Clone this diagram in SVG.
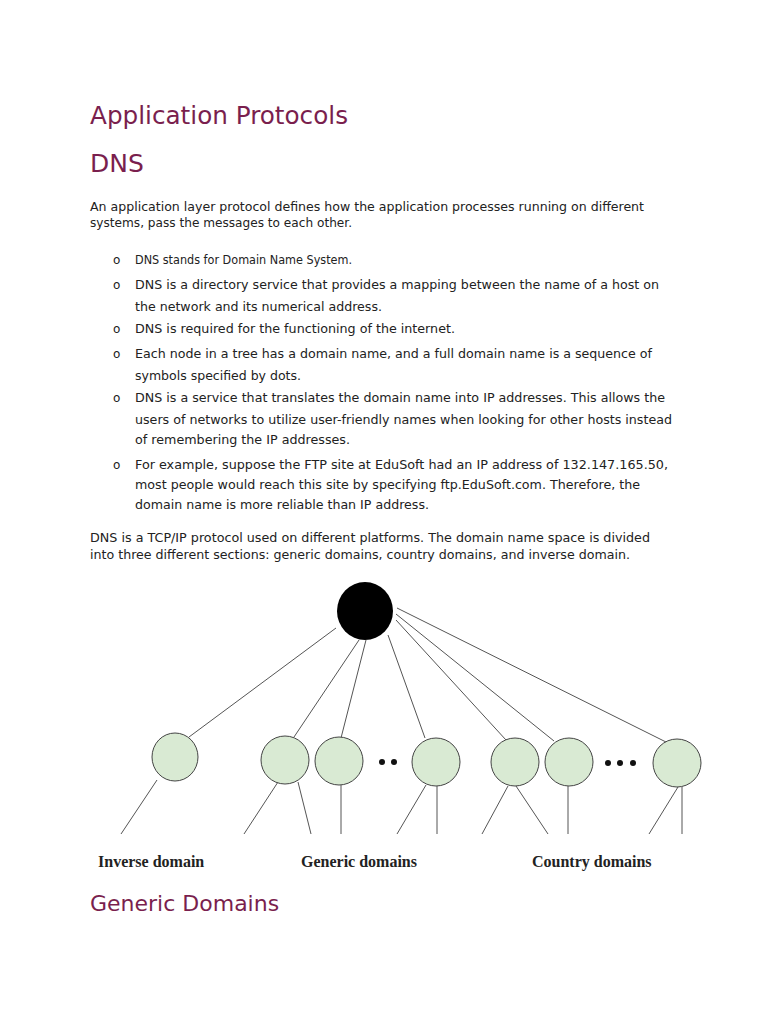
<svg xmlns="http://www.w3.org/2000/svg" width="768" height="1024" viewBox="0 0 768 1024">
<style>
.h{font-family:"DejaVu Sans","Liberation Sans",sans-serif;fill:#7a1f4e}
.b{font-family:"DejaVu Sans",sans-serif;font-size:12px;fill:#222}
.lbl{font-family:"Liberation Serif",serif;font-weight:bold;font-size:16px;fill:#222}
.e{stroke:#555;stroke-width:1;fill:none}
.c{fill:#d9ead3;stroke:#444;stroke-width:1}
.dot{fill:#111}
</style>
<rect width="768" height="1024" fill="#fff"/>
<text class="h" x="90" y="124" font-size="25" textLength="258" lengthAdjust="spacingAndGlyphs">Application Protocols</text>
<text class="h" x="90" y="172" font-size="25">DNS</text>
<text class="b" x="90" y="211" textLength="554" lengthAdjust="spacingAndGlyphs">An application layer protocol defines how the application processes running on different</text>
<text class="b" x="90" y="227" textLength="262" lengthAdjust="spacingAndGlyphs">systems, pass the messages to each other.</text>
<g class="b">
<text x="113" y="264">o</text><text x="135" y="264" textLength="217" lengthAdjust="spacingAndGlyphs">DNS stands for Domain Name System.</text>
<text x="113" y="289">o</text><text x="135" y="289" textLength="524" lengthAdjust="spacingAndGlyphs">DNS is a directory service that provides a mapping between the name of a host on</text>
<text x="135" y="311" textLength="247" lengthAdjust="spacingAndGlyphs">the network and its numerical address.</text>
<text x="113" y="333">o</text><text x="135" y="333" textLength="320" lengthAdjust="spacingAndGlyphs">DNS is required for the functioning of the internet.</text>
<text x="113" y="358">o</text><text x="135" y="358" textLength="517" lengthAdjust="spacingAndGlyphs">Each node in a tree has a domain name, and a full domain name is a sequence of</text>
<text x="135" y="380" textLength="166" lengthAdjust="spacingAndGlyphs">symbols specified by dots.</text>
<text x="113" y="402">o</text><text x="135" y="402" textLength="530" lengthAdjust="spacingAndGlyphs">DNS is a service that translates the domain name into IP addresses. This allows the</text>
<text x="135" y="424" textLength="537" lengthAdjust="spacingAndGlyphs">users of networks to utilize user-friendly names when looking for other hosts instead</text>
<text x="135" y="444" textLength="215" lengthAdjust="spacingAndGlyphs">of remembering the IP addresses.</text>
<text x="113" y="469">o</text><text x="135" y="469" textLength="533" lengthAdjust="spacingAndGlyphs">For example, suppose the FTP site at EduSoft had an IP address of 132.147.165.50,</text>
<text x="135" y="489" textLength="505" lengthAdjust="spacingAndGlyphs">most people would reach this site by specifying ftp.EduSoft.com. Therefore, the</text>
<text x="135" y="509" textLength="294" lengthAdjust="spacingAndGlyphs">domain name is more reliable than IP address.</text>
</g>
<text class="b" x="90" y="542" textLength="560" lengthAdjust="spacingAndGlyphs">DNS is a TCP/IP protocol used on different platforms. The domain name space is divided</text>
<text class="b" x="90" y="559" textLength="540" lengthAdjust="spacingAndGlyphs">into three different sections: generic domains, country domains, and inverse domain.</text>
<g id="connectors" class="e">
<line x1="336" y1="628" x2="189" y2="737"/>
<line x1="359" y1="640" x2="294" y2="737"/>
<line x1="366" y1="640" x2="341" y2="738"/>
<line x1="388" y1="635" x2="425" y2="738"/>
<line x1="396" y1="620" x2="506" y2="740"/>
<line x1="396" y1="614" x2="554" y2="741"/>
<line x1="397" y1="608" x2="668" y2="743"/>
<line x1="157" y1="780" x2="121" y2="834"/>
<line x1="278" y1="782" x2="244" y2="834"/>
<line x1="298" y1="782" x2="311" y2="834"/>
<line x1="341" y1="785" x2="341" y2="834"/>
<line x1="426" y1="785" x2="397" y2="834"/>
<line x1="437" y1="786" x2="437" y2="834"/>
<line x1="508" y1="786" x2="482" y2="834"/>
<line x1="516" y1="786" x2="548" y2="834"/>
<line x1="568" y1="786" x2="568" y2="834"/>
<line x1="678" y1="787" x2="649" y2="834"/>
<line x1="682" y1="787" x2="682" y2="834"/>
</g>
<g id="root"><ellipse cx="365" cy="611" rx="28" ry="29" fill="#000"/></g>
<g id="inverse"><ellipse class="c" cx="175" cy="757" rx="23" ry="24"/></g>
<g id="g1"><ellipse class="c" cx="285" cy="760" rx="24" ry="24"/></g>
<g id="g2"><ellipse class="c" cx="339" cy="761" rx="24" ry="24"/></g>
<g id="g3"><ellipse class="c" cx="436" cy="762" rx="24" ry="24"/></g>
<g id="c1"><ellipse class="c" cx="515" cy="762" rx="24" ry="24"/></g>
<g id="c2"><ellipse class="c" cx="569" cy="762" rx="24" ry="24"/></g>
<g id="c3"><ellipse class="c" cx="677" cy="763" rx="24" ry="24"/></g>
<circle class="dot" cx="382" cy="762" r="3"/><circle class="dot" cx="394" cy="762" r="3"/>
<circle class="dot" cx="608" cy="763" r="3"/><circle class="dot" cx="620" cy="763" r="3"/><circle class="dot" cx="633" cy="763" r="3"/>
<text class="lbl" x="98" y="867">Inverse domain</text>
<text class="lbl" x="301" y="867">Generic domains</text>
<text class="lbl" x="532" y="867">Country domains</text>
<text class="h" x="90" y="911" font-size="22">Generic Domains</text>
</svg>
